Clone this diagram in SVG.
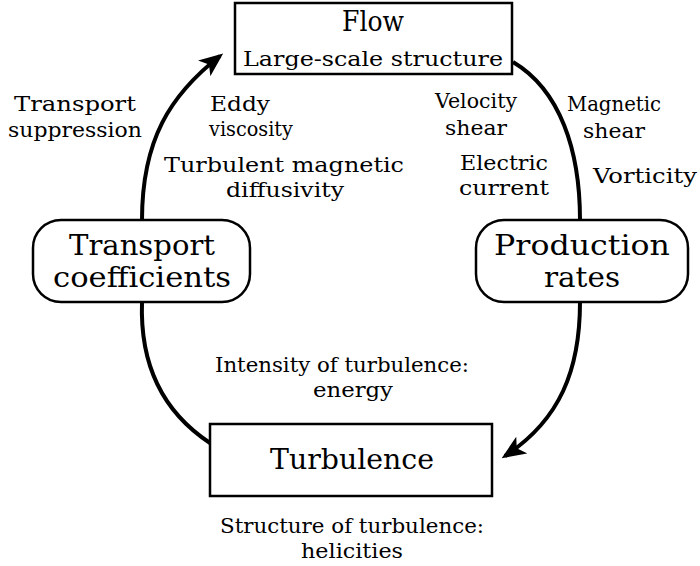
<svg xmlns="http://www.w3.org/2000/svg" width="700" height="566" viewBox="0 0 700 566">
<style>
text{font-family:"DejaVu Serif","Liberation Serif",serif;fill:#000;text-anchor:middle}
.big{font-size:27px}.mid{font-size:21px}.sm{font-size:20.5px}
.box{fill:#fff;stroke:#000;stroke-width:2.5}
.ln{fill:none;stroke:#000;stroke-width:4}
</style>
<defs><marker id="ah" viewBox="0 0 12 10" refX="10" refY="5" markerWidth="6" markerHeight="5" orient="auto" markerUnits="strokeWidth"><path d="M0,0 L12,5 L0,10 L3,5 Z"/></marker></defs>
<rect width="700" height="566" fill="#fff"/>
<g id="connectors">
<path class="ln" d="M210,443 C160,410 140,360 142,302"/>
<path class="ln" d="M142,220 C142,140 170,95 220,56" marker-end="url(#ah)"/>
<path class="ln" d="M513,62 C560,90 580,150 580,220"/>
<path class="ln" d="M580,302 C580,370 560,420 505,456" marker-end="url(#ah)"/>
</g>
<g id="flow"><rect class="box" x="235" y="3" width="277" height="71"/>
<text class="big" x="373" y="31" textLength="62" lengthAdjust="spacingAndGlyphs">Flow</text><text class="mid" x="373" y="66" textLength="260" lengthAdjust="spacingAndGlyphs">Large-scale structure</text></g>
<g id="transport"><rect class="box" x="33" y="220" width="217" height="82" rx="28"/>
<text class="big" x="142" y="255" textLength="146" lengthAdjust="spacingAndGlyphs">Transport</text><text class="big" x="142" y="287" textLength="178" lengthAdjust="spacingAndGlyphs">coefficients</text></g>
<g id="production"><rect class="box" x="476" y="220" width="212" height="82" rx="28"/>
<text class="big" x="582" y="255" textLength="176" lengthAdjust="spacingAndGlyphs">Production</text><text class="big" x="582" y="287" textLength="76" lengthAdjust="spacingAndGlyphs">rates</text></g>
<g id="turbulence"><rect class="box" x="210" y="424" width="282" height="72"/>
<text class="big" x="352" y="469" textLength="164" lengthAdjust="spacingAndGlyphs">Turbulence</text></g>
<g id="labels">
<text class="sm" x="75" y="111" textLength="122" lengthAdjust="spacingAndGlyphs">Transport</text><text class="sm" x="75" y="137" textLength="134" lengthAdjust="spacingAndGlyphs">suppression</text>
<text class="sm" x="240" y="111" textLength="60" lengthAdjust="spacingAndGlyphs">Eddy</text><text class="sm" x="251" y="136" textLength="84" lengthAdjust="spacingAndGlyphs">viscosity</text>
<text class="sm" x="284" y="172" textLength="240" lengthAdjust="spacingAndGlyphs">Turbulent magnetic</text><text class="sm" x="285" y="197" textLength="118" lengthAdjust="spacingAndGlyphs">diffusivity</text>
<text class="sm" x="476" y="108" textLength="82" lengthAdjust="spacingAndGlyphs">Velocity</text><text class="sm" x="476" y="135" textLength="62" lengthAdjust="spacingAndGlyphs">shear</text>
<text class="sm" x="504" y="170" textLength="88" lengthAdjust="spacingAndGlyphs">Electric</text><text class="sm" x="504" y="195" textLength="90" lengthAdjust="spacingAndGlyphs">current</text>
<text class="sm" x="614" y="111" textLength="94" lengthAdjust="spacingAndGlyphs">Magnetic</text><text class="sm" x="614" y="138" textLength="62" lengthAdjust="spacingAndGlyphs">shear</text>
<text class="sm" x="645" y="183" textLength="104" lengthAdjust="spacingAndGlyphs">Vorticity</text>
<text class="sm" x="342" y="372" textLength="254" lengthAdjust="spacingAndGlyphs">Intensity of turbulence:</text><text class="sm" x="353" y="397" textLength="80" lengthAdjust="spacingAndGlyphs">energy</text>
<text class="sm" x="352" y="533" textLength="264" lengthAdjust="spacingAndGlyphs">Structure of turbulence:</text><text class="sm" x="352" y="558" textLength="102" lengthAdjust="spacingAndGlyphs">helicities</text>
</g>
</svg>
